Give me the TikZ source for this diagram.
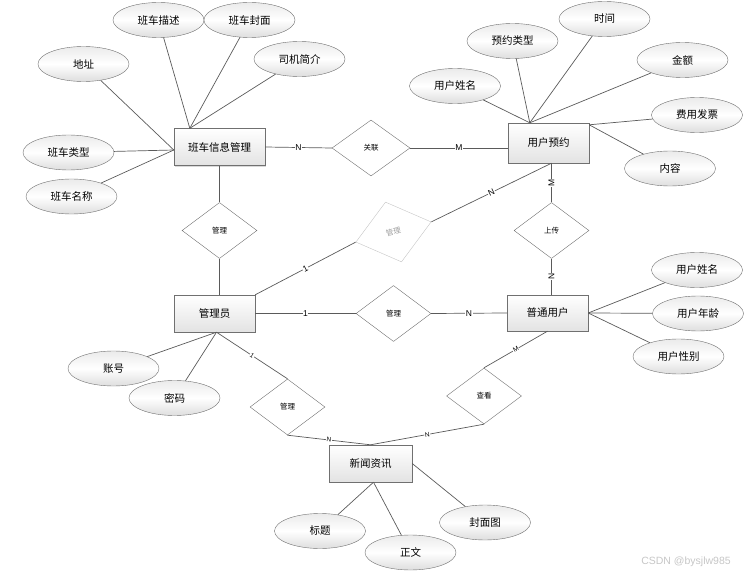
\documentclass[tikz,border=0pt]{standalone}
\usepackage{fontspec}
\usepackage{xcolor}
\usepackage{tikz}
\usetikzlibrary{positioning,shapes.geometric,shadows,calc}
\newfontfamily\cjk{Noto Sans CJK SC}
\newfontfamily\lat{Liberation Sans}
\definecolor{edge}{HTML}{5A5A5A}
\definecolor{rim}{HTML}{707070}

\begin{document}
\begin{tikzpicture}[
  x=1pt, y=-1pt,
  font=\cjk,
  % Node styles
  entity/.style={rectangle, draw=rim, top color=white, bottom color=gray!22, minimum width=81pt, minimum height=37pt, inner sep=2pt, font=\cjk\fontsize{10.5}{12}\selectfont, drop shadow={shadow xshift=1.2pt, shadow yshift=-1.2pt, fill=gray!50, opacity=0.6}},
  attr/.style={ellipse, draw=rim, top color=gray!16, bottom color=gray!26, middle color=white, minimum width=91pt, minimum height=35pt, inner sep=1pt, font=\cjk\fontsize{10.5}{12}\selectfont},
  rel/.style={diamond, draw=rim, fill=white, minimum width=75pt, minimum height=56pt, inner sep=0pt, font=\cjk\fontsize{7.5}{9}\selectfont},
  relfaint/.style={rel, draw=gray!45, text=gray!75},
  link/.style={draw=edge, line width=0.7pt},
  card/.style={fill=white, inner sep=0.6pt, font=\lat\fontsize{8.5}{9}\selectfont},
  cardsm/.style={card, font=\lat\fontsize{6.5}{7}\selectfont}
]
  \useasboundingbox (0,0) rectangle (753,575);

  % Entities
  \node[entity, minimum width=91pt] (bc) at (219.5,147) {班车信息管理};
  \node[entity, minimum height=40pt] (yy) at (548.5,143) {用户预约};
  \node[entity] (gly) at (214.5,313.5) {管理员};
  \node[entity, minimum height=36pt] (pt) at (547.5,313) {普通用户};
  \node[entity, minimum width=83pt] (xw) at (370.5,463.5) {新闻资讯};

  % Relationships
  \node[rel, minimum width=78pt] (gl) at (371,148) {关联};
  \node[rel] (glA) at (219.5,230.5) {管理};
  \node[relfaint, rotate=15, minimum width=78pt, minimum height=62pt] (glB) at (393.5,232) {管理};
  \node[rel] (sc) at (551.5,230.5) {上传};
  \node[rel] (glC) at (393.5,313.5) {管理};
  \node[rel] (glD) at (287.5,407) {管理};
  \node[rel] (ck) at (484,396) {查看};

  % Attributes: 班车信息管理
  \node[attr] (bcMs) at (158.5,20) {班车描述};
  \node[attr] (bcFm) at (249.5,20) {班车封面};
  \node[attr] (bcSj) at (299.5,59) {司机简介};
  \node[attr] (bcDz) at (83.5,64) {地址};
  \node[attr] (bcLx) at (68.5,152.5) {班车类型};
  \node[attr] (bcMc) at (71.5,196.5) {班车名称};

  % Attributes: 用户预约
  \node[attr] (yyXm) at (455,86) {用户姓名};
  \node[attr] (yyLx) at (512.5,41) {预约类型};
  \node[attr] (yySj) at (604.5,19) {时间};
  \node[attr] (yyJe) at (682.5,60) {金额};
  \node[attr] (yyFp) at (697,115) {费用发票};
  \node[attr] (yyNr) at (670,168.5) {内容};

  % Attributes: 普通用户
  \node[attr] (ptXm) at (697,270) {用户姓名};
  \node[attr] (ptNl) at (698,313.5) {用户年龄};
  \node[attr] (ptXb) at (678.5,356.5) {用户性别};

  % Attributes: 管理员
  \node[attr] (glyZh) at (113.5,368.5) {账号};
  \node[attr] (glyMm) at (174.5,398) {密码};

  % Attributes: 新闻资讯
  \node[attr] (xwBt) at (320,531) {标题};
  \node[attr] (xwZw) at (410.5,552.5) {正文};
  \node[attr] (xwFm) at (485,522.5) {封面图};

  % Meeting points on the entity borders
  \coordinate (bcT) at ([xshift=16pt]bc.north west);
  \coordinate (bcL) at ([yshift=-3pt]bc.west);
  \coordinate (yyT) at ([xshift=22pt]yy.north west);
  \coordinate (yyR) at ([yshift=-2pt]yy.north east);
  \coordinate (glyB) at ([xshift=2pt]gly.south);
  \coordinate (xwB) at ([xshift=3pt]xw.south);

  % Attribute links
  \draw[link] (bcMs) -- (bcT);
  \draw[link] (bcFm) -- (bcT);
  \draw[link] (bcSj) -- (bcT);
  \draw[link] (bcDz) -- (bcL);
  \draw[link] (bcLx) -- (bcL);
  \draw[link] (bcMc) -- (bcL);

  \draw[link] (yyXm) -- (yyT);
  \draw[link] (yyLx) -- (yyT);
  \draw[link] (yySj) -- (yyT);
  \draw[link] (yyJe) -- (yyT);
  \draw[link] (yyFp) -- (yyR);
  \draw[link] (yyNr) -- (yyR);

  \draw[link] (ptXm) -- (pt.east);
  \draw[link] (ptNl) -- (pt.east);
  \draw[link] (ptXb) -- (pt.east);

  \draw[link] (glyZh) -- (glyB);
  \draw[link] (glyMm) -- (glyB);

  \draw[link] (xwBt) -- (xwB);
  \draw[link] (xwZw) -- (xwB);
  \draw[link] (xwFm) -- (xw.east);

  % Relationship links
  \draw[link] (bc.east) -- node[card] {N} (gl.west);
  \draw[link] (gl.east) -- node[card] {M} (gl.east -| yy.west);
  \draw[link] (bc.south -| glA.north) -- (glA.north);
  \draw[link] (glA.south) -- (glA.south |- gly.north);
  \draw[link] (gly.north east) -- node[card, sloped] {1} (glB.west);
  \draw[link] (glB.east) -- node[card, sloped] {N} ([xshift=3pt]yy.south);
  \draw[link] (sc.north) -- node[card, sloped] {M} (sc.north |- yy.south);
  \draw[link] (sc.south |- pt.north) -- node[card, sloped] {N} (sc.south);
  \draw[link] (gly.east) -- node[card] {1} (glC.west);
  \draw[link] (glC.east) -- node[card] {N} (pt.west);
  \draw[link] (glyB) -- node[cardsm, sloped] {1} (glD.north);
  \draw[link] (glD.south) -- node[cardsm, sloped] {N} (xw.north);
  \draw[link] (pt.south) -- node[cardsm, sloped] {M} (ck.north);
  \draw[link] (ck.south) -- node[cardsm, sloped] {N} (xw.north);

  % Watermark
  \node[font=\lat\fontsize{10.5}{12}\selectfont, text=gray!45] (wm) at (686,562) {CSDN @bysjlw985};
\end{tikzpicture}
\end{document}
